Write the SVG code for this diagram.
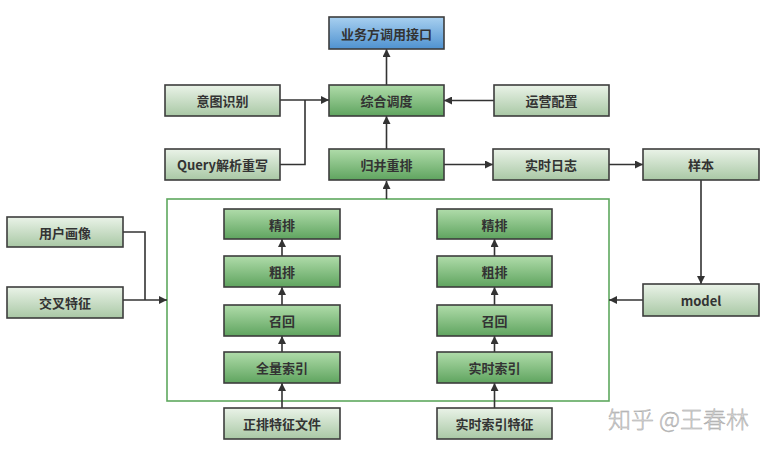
<svg xmlns="http://www.w3.org/2000/svg" width="774" height="450" viewBox="0 0 774 450">
<defs>
<linearGradient id="gBlue" x1="0" y1="0" x2="0" y2="1"><stop offset="0" stop-color="#a8d0f0"/><stop offset="1" stop-color="#4f92d0"/></linearGradient>
<linearGradient id="gGreen" x1="0" y1="0" x2="0" y2="1"><stop offset="0" stop-color="#b0dcaa"/><stop offset="1" stop-color="#5fa45f"/></linearGradient>
<linearGradient id="gLight" x1="0" y1="0" x2="0" y2="1"><stop offset="0" stop-color="#eaf3e8"/><stop offset="1" stop-color="#a9c8a5"/></linearGradient>
<marker id="arr" viewBox="0 0 10 10" refX="10" refY="5" markerWidth="8" markerHeight="8" markerUnits="userSpaceOnUse" orient="auto"><path d="M0,0 L10,5 L0,10 z" fill="#333"/></marker>
</defs>
<style>
.box{stroke:#3d3d3d;stroke-width:1.6}
.blue{fill:url(#gBlue)}
.green{fill:url(#gGreen)}
.light{fill:url(#gLight)}
.t{font-family:"Noto Sans CJK SC","Liberation Sans",sans-serif;font-size:13px;font-weight:bold;fill:#333;text-anchor:middle;dominant-baseline:central}
.c{fill:none;stroke:#333;stroke-width:1.6}
.a{marker-end:url(#arr)}
.wm{font-family:"Noto Sans CJK SC","Liberation Sans",sans-serif;font-size:23px;font-weight:300;fill:#d4d4d4;stroke:#a0a0a0;stroke-width:0.4;text-anchor:start;dominant-baseline:central}
</style>
<rect x="0" y="0" width="774" height="450" fill="#fff"/>
<g id="container"><rect x="167" y="199" width="442" height="202" fill="none" stroke="#5ea85e" stroke-width="1.6"/></g>
<g id="connectors">
<path class="c a" d="M386.5,85 V49"/>
<path class="c a" d="M280,100 H329"/>
<path class="c" d="M280,164.5 H305 V100"/>
<path class="c a" d="M494,100.5 H444"/>
<path class="c a" d="M386.5,149 V116"/>
<path class="c a" d="M386.5,199 V181"/>
<path class="c a" d="M444,164.5 H493"/>
<path class="c a" d="M609,164.5 H643"/>
<path class="c a" d="M701,180 V284"/>
<path class="c a" d="M643,300 H609"/>
<path class="c" d="M123,232 H145 V300"/>
<path class="c a" d="M123,300 H167"/>
<path class="c a" d="M282,256 V239"/>
<path class="c a" d="M282,305 V287"/>
<path class="c a" d="M282,352 V336"/>
<path class="c a" d="M282,408 V383"/>
<path class="c a" d="M494.5,256 V239"/>
<path class="c a" d="M494.5,305 V287"/>
<path class="c a" d="M494.5,352 V336"/>
<path class="c a" d="M494.5,408 V383"/>
</g>
<g id="n-api"><rect class="box blue" x="329" y="17" width="115" height="32"/><text class="t" x="386.5" y="33">业务方调用接口</text></g>
<g id="n-intent"><rect class="box light" x="165" y="85" width="115" height="31"/><text class="t" x="222.5" y="100.5">意图识别</text></g>
<g id="n-sched"><rect class="box green" x="329" y="85" width="115" height="31"/><text class="t" x="386.5" y="100.5">综合调度</text></g>
<g id="n-ops"><rect class="box light" x="494" y="85" width="115" height="31"/><text class="t" x="551.5" y="100.5">运营配置</text></g>
<g id="n-query"><rect class="box light" x="165" y="149" width="115" height="31"/><text class="t" x="222.5" y="164.5">Query解析重写</text></g>
<g id="n-merge"><rect class="box green" x="329" y="149" width="115" height="31"/><text class="t" x="386.5" y="164.5">归并重排</text></g>
<g id="n-log"><rect class="box light" x="493" y="149" width="116" height="31"/><text class="t" x="551" y="164.5">实时日志</text></g>
<g id="n-sample"><rect class="box light" x="643" y="149" width="116" height="31"/><text class="t" x="701" y="164.5">样本</text></g>
<g id="n-model"><rect class="box light" x="643" y="284" width="116" height="32"/><text class="t" x="701" y="300">model</text></g>
<g id="n-user"><rect class="box light" x="7" y="217" width="116" height="30"/><text class="t" x="65" y="232">用户画像</text></g>
<g id="n-cross"><rect class="box light" x="7" y="287" width="116" height="31"/><text class="t" x="65" y="302.5">交叉特征</text></g>
<g id="n-l-fine"><rect class="box green" x="224" y="209" width="116" height="30"/><text class="t" x="282" y="224">精排</text></g>
<g id="n-l-coarse"><rect class="box green" x="224" y="256" width="116" height="31"/><text class="t" x="282" y="271.5">粗排</text></g>
<g id="n-l-recall"><rect class="box green" x="224" y="305" width="116" height="31"/><text class="t" x="282" y="320.5">召回</text></g>
<g id="n-l-index"><rect class="box green" x="224" y="352" width="116" height="31"/><text class="t" x="282" y="367.5">全量索引</text></g>
<g id="n-l-file"><rect class="box light" x="224" y="408" width="116" height="31"/><text class="t" x="282" y="423.5">正排特征文件</text></g>
<g id="n-r-fine"><rect class="box green" x="437" y="209" width="115" height="30"/><text class="t" x="494.5" y="224">精排</text></g>
<g id="n-r-coarse"><rect class="box green" x="437" y="256" width="115" height="31"/><text class="t" x="494.5" y="271.5">粗排</text></g>
<g id="n-r-recall"><rect class="box green" x="437" y="305" width="115" height="31"/><text class="t" x="494.5" y="320.5">召回</text></g>
<g id="n-r-index"><rect class="box green" x="437" y="352" width="115" height="31"/><text class="t" x="494.5" y="367.5">实时索引</text></g>
<g id="n-r-feat"><rect class="box light" x="437" y="408" width="115" height="31"/><text class="t" x="494.5" y="423.5">实时索引特征</text></g>
<text class="wm" x="608" y="418">知乎 @王春林</text>
</svg>
